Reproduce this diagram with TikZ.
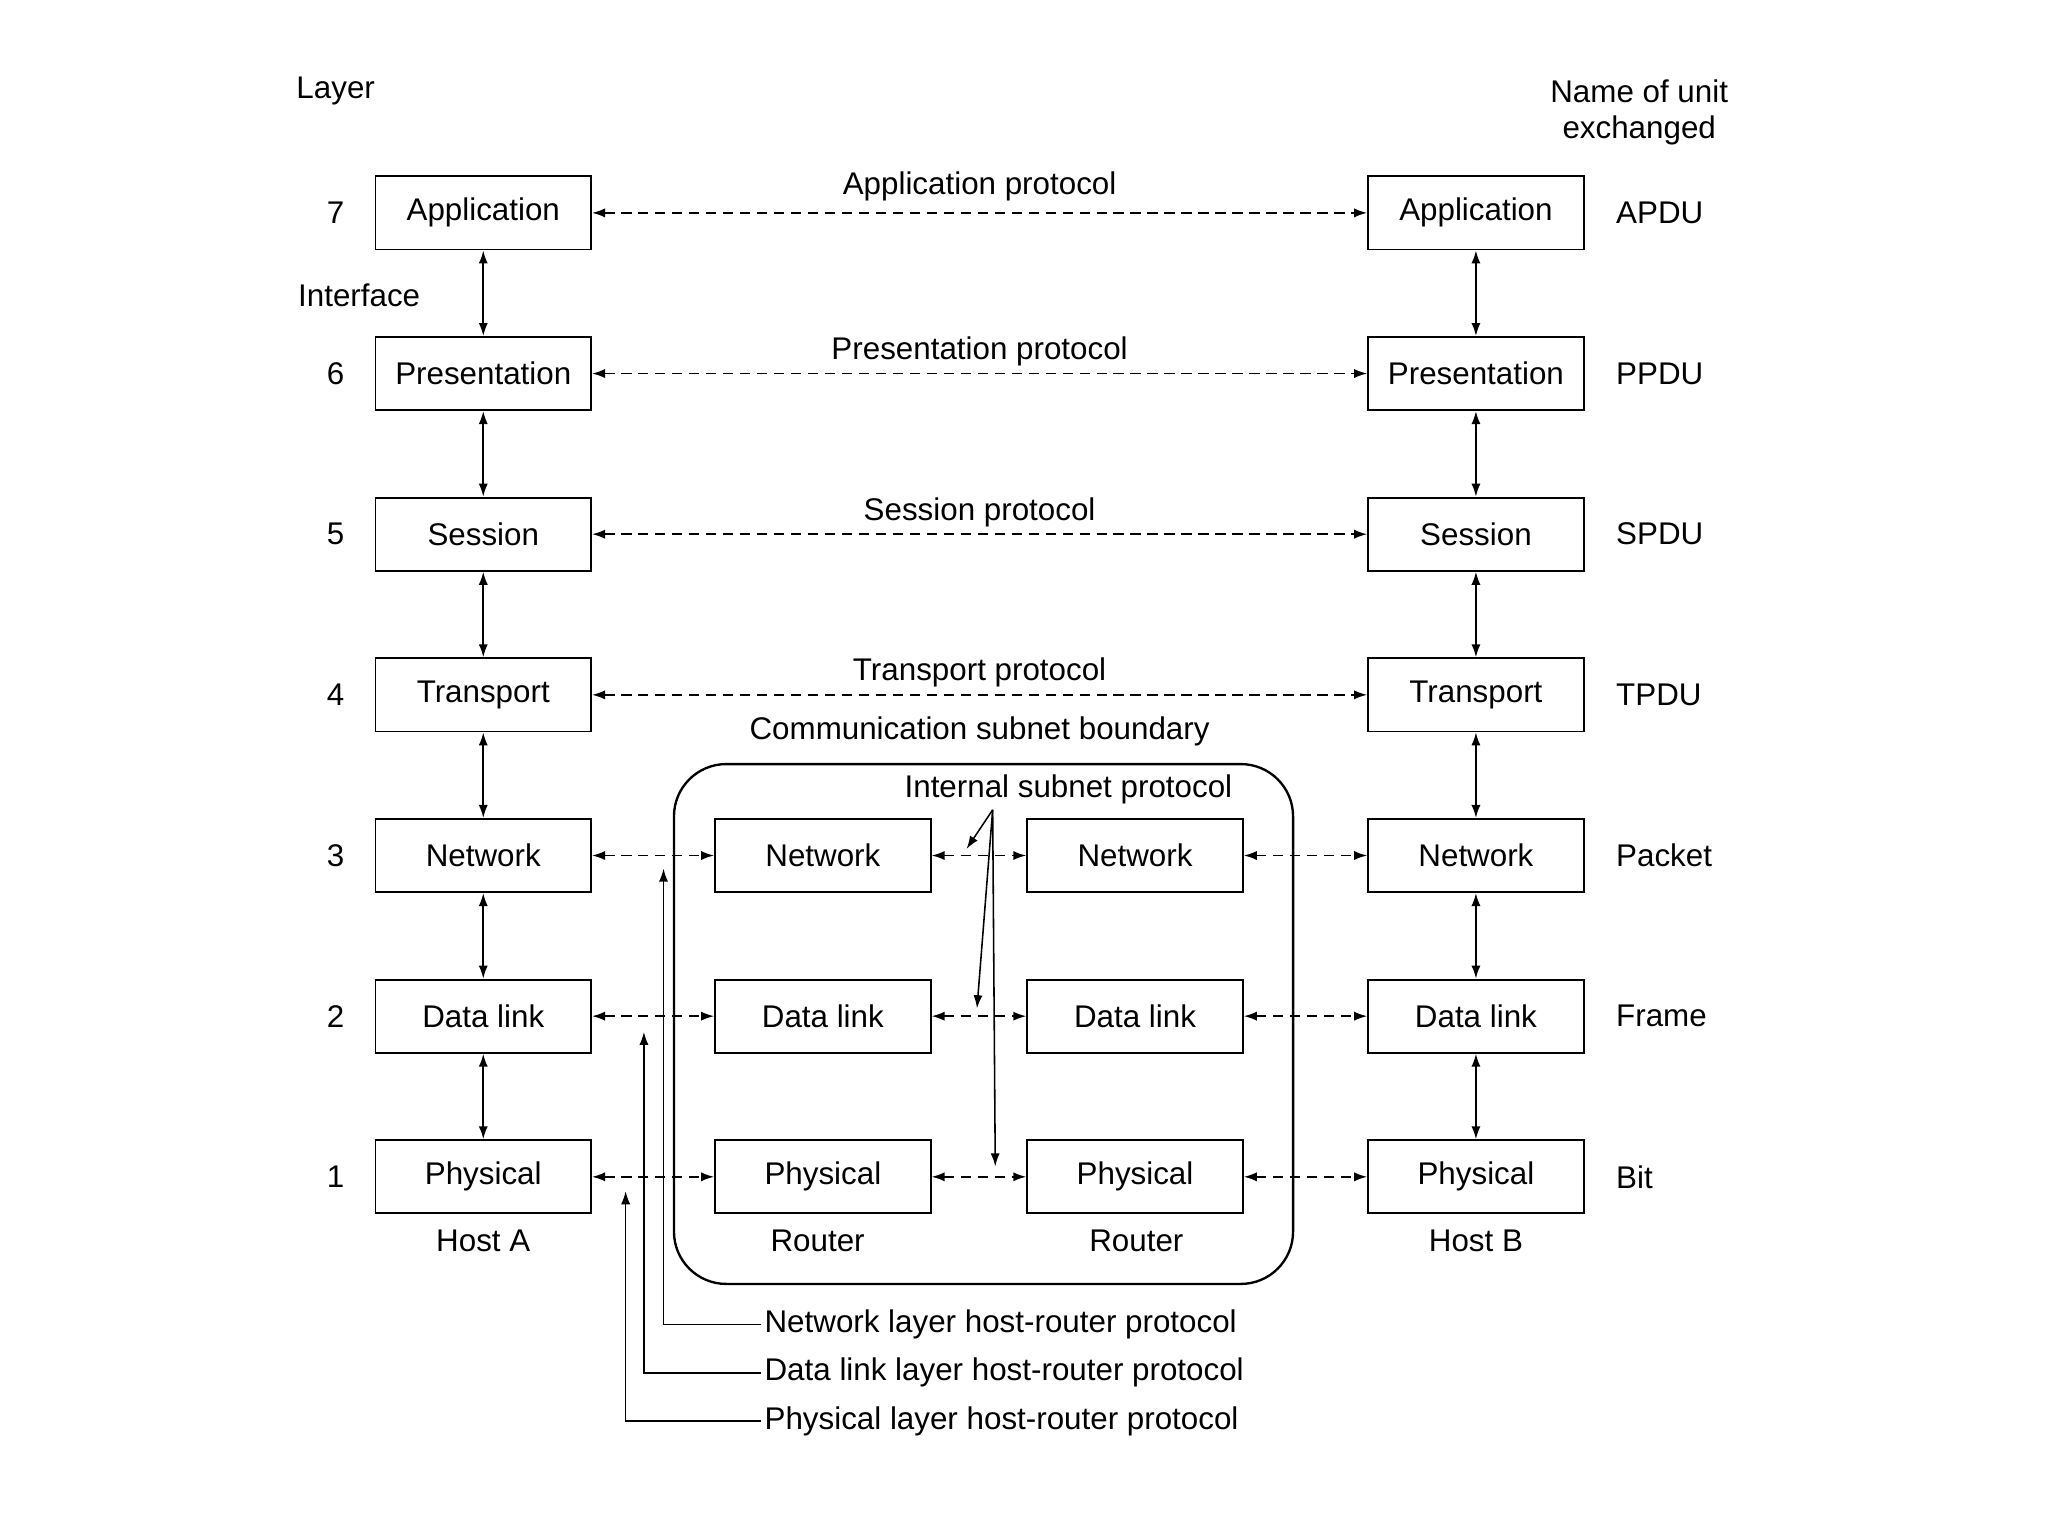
\documentclass[tikz,border=0pt]{standalone}
\usepackage{fontspec}
\setmainfont{Liberation Sans}
\usetikzlibrary{arrows.meta}
\begin{document}
\begin{tikzpicture}[x=0.5pt,y=-0.5pt,
  font=\fontsize{12}{14}\selectfont,
  box/.style={draw,line width=0.7pt,minimum width=82.5pt,minimum height=28pt,inner sep=0pt},
  tip/.style={-{Latex[length=5pt,width=3.5pt]}},
  both/.style={{Latex[length=5pt,width=3.5pt]}-{Latex[length=5pt,width=3.5pt]},line width=0.7pt},
  dsh/.style={both,dash pattern=on 4pt off 2.5pt},
  lbl/.style={inner sep=1pt}]
\useasboundingbox (0,0) rectangle (1568,1176);
% layers
\foreach \n/\t/\y/\u in {7/Application/163/APDU,6/Presentation/286/PPDU,5/Session/409/SPDU,4/Transport/532/TPDU,3/Network/655/Packet,2/Data link/778/Frame,1/Physical/901/Bit}{
  \node[box] (L\n) at (370,\y) {\t};
  \node[box] (R\n) at (1130,\y) {\t};
  \node[lbl] (num\n) at (257,\y) {\n};
  \node[lbl,anchor=west] (u\n) at (1235,\y) {\u};
}
\foreach \n/\t/\y in {3/Network/655,2/Data link/778,1/Physical/901}{
  \node[box] (A\n) at (630,\y) {\t};
  \node[box] (B\n) at (869,\y) {\t};
  \draw[dsh] (L\n) -- (A\n);
  \draw[dsh] (A\n) -- (B\n);
  \draw[dsh] (B\n) -- (R\n);
}
\foreach \a/\b in {7/6,6/5,5/4,4/3,3/2,2/1}{
  \draw[both] (L\a) -- (L\b);
  \draw[both] (R\a) -- (R\b);
}
\foreach \n in {7,6,5,4}{\draw[dsh] (L\n) -- (R\n);}
\node[lbl] (p7) at (750,143) {Application protocol};
\node[lbl] (p6) at (750,269) {Presentation protocol};
\node[lbl] (p5) at (750,392) {Session protocol};
\node[lbl] (p4) at (750,515) {Transport protocol};
\node[lbl] (layer) at (257,70) {Layer};
\node[lbl] (intf) at (275,226) {Interface};
\node[lbl,align=center] (nu) at (1255,86) {Name of unit\\exchanged};
\node[lbl] (csb) at (750,560) {Communication subnet boundary};
\draw[line width=0.9pt,rounded corners=20pt] (516,585) rectangle (990,983);
\node[lbl] (isp) at (818,604) {Internal subnet protocol};
\coordinate (ic) at (760,620);
\draw[tip,line width=0.6pt] (ic) -- (740,650);
\draw[tip,line width=0.6pt] (ic) -- (748,772);
\draw[tip,line width=0.6pt] (ic) -- (762,893);
\node[lbl] (ha) at (370,950) {Host A};
\node[lbl] (r1) at (626,950) {Router};
\node[lbl] (r2) at (870,950) {Router};
\node[lbl] (hb) at (1130,950) {Host B};
\node[lbl,anchor=west] (t1) at (583,1014) {Network layer host-router protocol};
\node[lbl,anchor=west] (t2) at (583,1051) {Data link layer host-router protocol};
\node[lbl,anchor=west] (t3) at (583,1088) {Physical layer host-router protocol};
\draw[tip,line width=0.6pt] (t1.west) -- (508,1014) -- (508,665);
\draw[tip,line width=0.6pt] (t2.west) -- (493,1051) -- (493,790);
\draw[tip,line width=0.6pt] (t3.west) -- (479,1088) -- (479,912);
\end{tikzpicture}
\end{document}
